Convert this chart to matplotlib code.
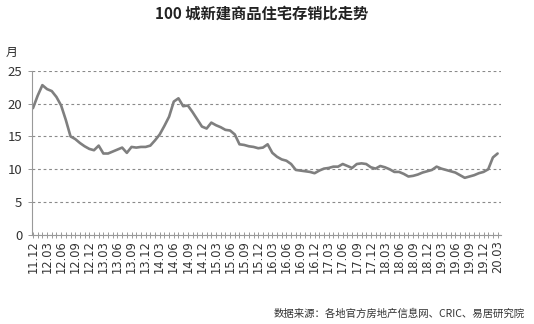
import matplotlib
matplotlib.use("Agg")
import matplotlib.pyplot as plt
from matplotlib.ticker import MultipleLocator

plt.rcParams['font.family'] = ['Noto Sans CJK SC', 'DejaVu Sans']

# Monthly inventory-to-sales ratio (months), 2011.12 - 2020.03
months_start = (2011, 12)
ratio = [
    19.3, 21.2, 22.8, 22.2, 21.9, 21.0, 19.7, 17.5, 15.0, 14.6,
    14.0, 13.5, 13.1, 12.9, 13.6, 12.4, 12.4, 12.7, 13.0, 13.3,
    12.5, 13.4, 13.3, 13.4, 13.4, 13.6, 14.4, 15.3, 16.6, 18.0,
    20.3, 20.8, 19.6, 19.7, 18.7, 17.6, 16.5, 16.2, 17.1, 16.7,
    16.4, 16.0, 15.9, 15.3, 13.8, 13.7, 13.5, 13.4, 13.2, 13.3,
    13.8, 12.5, 11.9, 11.5, 11.3, 10.8, 9.9, 9.8, 9.7, 9.6,
    9.4, 9.8, 10.1, 10.2, 10.4, 10.4, 10.8, 10.5, 10.2, 10.8,
    10.9, 10.8, 10.3, 10.1, 10.5, 10.3, 10.0, 9.6, 9.6, 9.3,
    8.9, 9.0, 9.2, 9.5, 9.7, 9.9, 10.4, 10.1, 9.9, 9.7,
    9.5, 9.1, 8.7, 8.9, 9.1, 9.4, 9.6, 10.0, 11.8, 12.4,
]

title = "100 城新建商品住宅存销比走势"
y_label = "月"
source = "数据来源：各地官方房地产信息网、CRIC、易居研究院"

# Month labels in YY.MM form
labels = []
y, m = months_start
for _ in ratio:
    labels.append(f"{y % 100:02d}.{m:02d}")
    m += 1
    if m > 12:
        m = 1
        y += 1

x = list(range(len(ratio)))

fig = plt.figure(figsize=(5.34, 3.24), dpi=100)
ax = fig.add_axes([0.06, 0.2747, 0.878, 0.5071])

ax.plot(x, ratio, color="#7f7f7f", lw=1.9, solid_joinstyle="round",
        solid_capstyle="round")

ax.set_ylim(0, 25)
ax.set_xlim(-0.2, len(ratio) - 0.3)
ax.yaxis.set_major_locator(MultipleLocator(5))
ax.grid(axis="y", color="#8a8a8a", lw=0.8, linestyle=(0, (2.5, 2.5)))
ax.set_axisbelow(True)

major = x[::3]
ax.set_xticks(major)
ax.set_xticklabels([labels[i] for i in major], rotation=90,
                   fontsize=8.3, color="#333333", family=["DejaVu Sans"])
ax.set_xticks(x, minor=True)
ax.tick_params(axis="x", which="both", direction="inout", length=4,
               width=0.7, color="#999999", pad=2)
ax.tick_params(axis="y", length=3, width=0.7, color="#999999",
               labelsize=9.5, labelcolor="#333333", pad=4)

for s in ("top", "right"):
    ax.spines[s].set_visible(False)
for s in ("left", "bottom"):
    ax.spines[s].set_color("#999999")
    ax.spines[s].set_linewidth(0.8)

fig.text(0.49, 0.957, title, ha="center", va="center",
         fontsize=11, fontweight="bold", color="#222222")
fig.text(0.022, 0.838, y_label, ha="center", va="center",
         fontsize=8.5, color="#222222")
fig.text(0.982, 0.033, source, ha="right", va="center",
         fontsize=7.5, color="#333333")

fig.savefig("out.png", dpi=100)
